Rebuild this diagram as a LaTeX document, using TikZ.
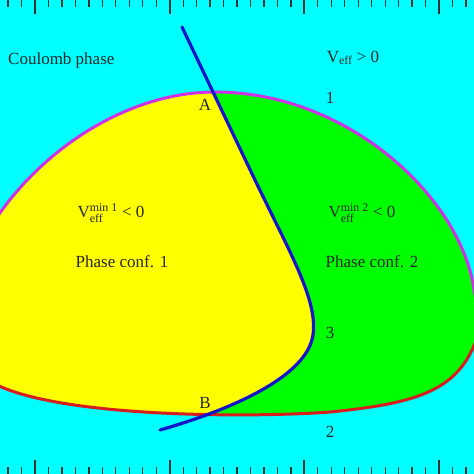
\documentclass[tikz,border=0pt]{standalone}
\usepackage{amsmath}
\usepackage{fontspec}
\setmainfont{Liberation Serif}
\definecolor{phcyan}{RGB}{0,255,255}
\definecolor{phyellow}{RGB}{255,255,0}
\definecolor{phgreen}{RGB}{0,255,0}
\definecolor{phmagenta}{RGB}{204,51,230}
\definecolor{phred}{RGB}{214,30,30}
\definecolor{phblue}{RGB}{20,20,200}
\usetikzlibrary{calc}

% Boundary curves in pixel units (y downwards)
\def\upperpath{(-20,245) .. controls (25,160) and (120,92) .. (215,92)
  .. controls (350,92) and (462,200) .. (474,290) -- (480,320)}
\def\lowerpath{(478,335) .. controls (460,390) and (420,403) .. (330,412)
  .. controls (250,418) and (40,418) .. (-15,378)}
\def\seppath{(182,27) -- (255,180) .. controls (290,253) and (318,300) .. (313,335)
  .. controls (307,377) and (230,410) .. (160,430)}

\begin{document}
\begin{tikzpicture}[x=1pt, y=-1pt,
    lbl/.style={font=\fontsize{17}{20}\selectfont, inner sep=0pt, text=black!85},
    upper/.style={draw=phmagenta, line width=3pt},
    lower/.style={draw=phred, line width=3pt},
    sepline/.style={draw=phblue, line width=3.2pt, line cap=round},
    tick/.style={draw=black!80, line width=1.3pt}
  ]
    \useasboundingbox (0,0) rectangle (474,474);
    \clip (0,0) rectangle (474,474);
    \fill[phcyan] (0,0) rectangle (474,474);

    % Phase region (runs past the frame at both sides)
    \fill[phgreen] \upperpath -- \lowerpath -- cycle;
    \begin{scope}
      \clip (174,10) -- \seppath -- (90,450) -- (-50,480) -- (-50,-10) -- cycle;
      \fill[phyellow] \upperpath -- \lowerpath -- cycle;
    \end{scope}

    % Boundaries
    \draw[upper] \upperpath;
    \draw[lower] \lowerpath;
    \draw[sepline] \seppath;

    % Ticks along top and bottom
    \foreach \k in {0,...,34} {
      \draw[tick] ({8.1+13.467*\k},0) -- ++(0,7);
      \draw[tick] ({8.1+13.467*\k},474) -- ++(0,-7);
    }
    \foreach \x in {35,170,304,439} {
      \draw[tick] (\x,0) -- ++(0,14);
      \draw[tick] (\x,474) -- ++(0,-14);
    }

    % Labels
    \node[lbl, anchor=west] (coul) at (8,60) {Coulomb phase};
    \node[lbl] (vpos) at (353,58) {V$_{\text{eff}}$ > 0};
    \node[lbl] (one) at (330,98) {1};
    \node[lbl] (ptA) at (205,105) {A};
    \node[lbl] (vmin1) at (111,213) {V$^{\text{min 1}}_{\text{eff}}$ < 0};
    \node[lbl] (conf1) at (122,262) {Phase conf. 1};
    \node[lbl] (vmin2) at (362,213) {V$^{\text{min 2}}_{\text{eff}}$ < 0};
    \node[lbl] (conf2) at (372,262) {Phase conf. 2};
    \node[lbl] (three) at (330,333) {3};
    \node[lbl] (ptB) at (205,403) {B};
    \node[lbl] (two) at (330,432) {2};
  \end{tikzpicture}
\end{document}
